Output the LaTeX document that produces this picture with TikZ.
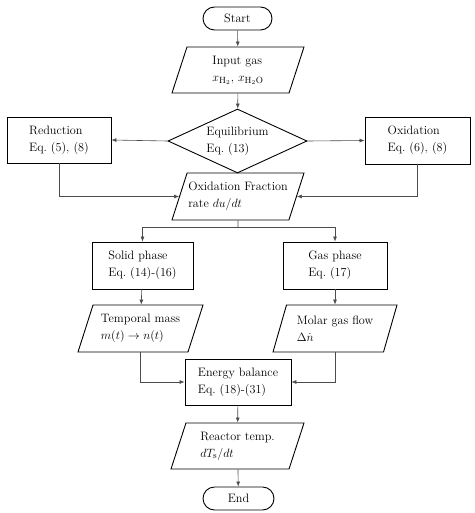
\documentclass[tikz,border=0pt]{standalone}
\usetikzlibrary{shapes.geometric,shapes.misc,arrows.meta}
\begin{document}
\begin{tikzpicture}[x=1pt,y=-1pt,
  every node/.style={font=\fontsize{12.2}{16.8}\selectfont, align=left, inner sep=0pt},
  proc/.style={draw, line width=0.9pt, rectangle},
  term/.style={draw, line width=0.9pt, rounded rectangle},
  io/.style={draw, line width=0.9pt, trapezium, trapezium left angle=62, trapezium right angle=118, trapezium stretches body=true},
  dec/.style={draw, line width=0.9pt, diamond, aspect=2.2},
  conn/.style={draw=black!70, line width=0.6pt, -{Latex[length=5pt,width=4pt]}}
]
\useasboundingbox (0,0) rectangle (474,513);
\node[term, minimum width=69pt, minimum height=23pt] (start) at (237.5,18.5) {Start};
\node[io, minimum width=132pt, minimum height=46pt] (input) at (238,70) {Input gas\\$x_{\mathrm{H_2}}$, $x_{\mathrm{H_2O}}$};
\node[dec, minimum width=139pt, minimum height=64pt] (equ) at (237.5,141) {Equilibrium\\Eq.~(13)};
\node[proc, minimum width=104pt, minimum height=46pt] (red) at (59,140) {Reduction\\Eq.~(5), (8)};
\node[proc, minimum width=105pt, minimum height=47pt] (oxi) at (417.5,140.5) {Oxidation\\Eq.~(6), (8)};
\node[io, minimum width=132pt, minimum height=47pt] (frac) at (238,196.5) {Oxidation Fraction\\rate $du/dt$};
\node[proc, minimum width=101pt, minimum height=47pt] (solid) at (142.5,265.5) {Solid phase\\Eq.~(14)-(16)};
\node[proc, minimum width=104pt, minimum height=47pt] (gas) at (335,265.5) {Gas phase\\Eq.~(17)};
\node[io, minimum width=125pt, minimum height=47pt] (tm) at (140.5,328.5) {Temporal mass\\$m(t)\rightarrow n(t)$};
\node[io, minimum width=124pt, minimum height=47pt] (mg) at (335,328.5) {Molar gas flow\\$\Delta\dot{n}$};
\node[proc, minimum width=106pt, minimum height=46pt] (eb) at (238,382) {Energy balance\\Eq.~(18)-(31)};
\node[io, minimum width=133pt, minimum height=46pt] (rt) at (237.5,446) {Reactor temp.\\$dT_{\mathrm{s}}/dt$};
\node[term, minimum width=71pt, minimum height=23pt] (end) at (238.5,498.5) {End};
\coordinate (branch) at (238,227);
\draw[conn] (start) -- (input);
\draw[conn] (input) -- (equ);
\draw[conn] (equ.west) -- (red.east);
\draw[conn] (equ.east) -- (oxi.west);
\draw[conn] (red.south) |- (frac);
\draw[conn] (oxi.south) |- (frac);
\draw[draw=black!70, line width=0.6pt] (frac.south) -- (branch);
\draw[conn] (branch) -| (solid.north);
\draw[conn] (branch) -| (gas.north);
\draw[conn] (solid) -- (tm);
\draw[conn] (gas) -- (mg);
\draw[conn] (tm.south) |- (eb);
\draw[conn] (mg.south) |- (eb);
\draw[conn] (eb) -- (rt);
\draw[conn] (rt) -- (end);
\end{tikzpicture}
\end{document}
